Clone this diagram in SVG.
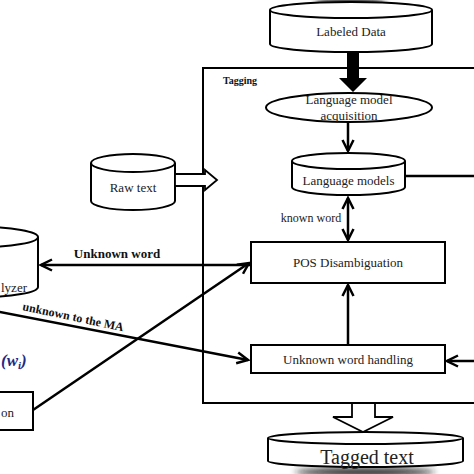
<svg xmlns="http://www.w3.org/2000/svg" width="474" height="474" viewBox="0 0 474 474">
<style>
.s{fill:#fff;stroke:#000;stroke-width:2}
.t{font-family:"Liberation Serif","Times New Roman",serif;font-size:13px;fill:#222;text-anchor:middle}
.b{font-family:"Liberation Serif","Times New Roman",serif;font-weight:bold;fill:#111}
.c{fill:none;stroke:#000;stroke-width:2.5}
</style>
<defs>
<marker id="ah" viewBox="0 0 14 14" refX="12" refY="7" markerWidth="14" markerHeight="14" orient="auto-start-reverse" markerUnits="userSpaceOnUse">
<path d="M1,1.5 L12,7 L1,12.5" fill="none" stroke="#000" stroke-width="2.5"/>
</marker>
<filter id="blur" x="-20%" y="-100%" width="140%" height="300%"><feGaussianBlur stdDeviation="3"/></filter>
</defs>
<rect width="474" height="474" fill="#fff"/>
<ellipse cx="350" cy="0" rx="35" ry="4" fill="#222" filter="url(#blur)"/>
<ellipse cx="365" cy="472" rx="70" ry="4" fill="#222" filter="url(#blur)"/>

<g id="tagging">
<rect x="203" y="68" width="300" height="335" fill="none" stroke="#000" stroke-width="2"/>
<text class="b" x="223" y="84" font-size="10">Tagging</text>
</g>

<g id="labeled-data">
<path class="s" d="M270,10 V44 A81,8 0 0 0 432,44 V10"/>
<ellipse class="s" cx="351" cy="10" rx="81" ry="8"/>
<text class="t" x="351" y="36">Labeled  Data</text>
</g>

<g id="lm-acquisition">
<ellipse class="s" cx="349" cy="107.5" rx="83" ry="14.5"/>
<text class="t" x="349" y="104">Language model</text>
<text class="t" x="349" y="120">acquisition</text>
</g>

<g id="language-models">
<path class="s" d="M292,161 V187 A56.5,8 0 0 0 405,187 V161"/>
<ellipse class="s" cx="348.5" cy="161" rx="56.5" ry="8"/>
<text class="t" x="348.5" y="185">Language models</text>
</g>

<g id="raw-text">
<path class="s" d="M91,163 V201 A42,9 0 0 0 175,201 V163"/>
<ellipse class="s" cx="133" cy="163" rx="42" ry="9"/>
<text class="t" x="133" y="192">Raw text</text>
</g>

<g id="analyzer">
<path class="s" d="M-78,237 V287 A58,10 0 0 0 38,287 V237"/>
<ellipse class="s" cx="-20" cy="237" rx="58" ry="10"/>
<text class="t" x="1" y="292" style="text-anchor:start">lyzer</text>
</g>

<g id="pos">
<rect class="s" x="251" y="242" width="194" height="41"/>
<text class="t" x="348" y="267">POS Disambiguation</text>
</g>

<g id="unknown-handling">
<rect class="s" x="251" y="345" width="194" height="28"/>
<text class="t" x="348" y="364">Unknown word handling</text>
</g>

<g id="left-box">
<rect class="s" x="-10" y="392" width="43" height="38"/>
<text class="t" x="1" y="417" style="text-anchor:start">on</text>
</g>

<g id="wi">
<text x="1" y="366" font-family="Liberation Serif,serif" font-size="17" font-weight="bold" font-style="italic" fill="#1e2a86">(w<tspan font-size="11" dy="3">i</tspan><tspan dy="-3">)</tspan></text>
</g>

<g id="tagged-text">
<path class="s" d="M268,438 V461 A97.5,6 0 0 0 463,461 V438"/>
<ellipse class="s" cx="365.5" cy="438" rx="97.5" ry="6"/>
<text class="t" x="367" y="464" style="font-size:20px">Tagged text</text>
</g>

<g id="connectors">
<polygon points="347,52 359,52 359,78 367,78 353,92 339,78 347,78" fill="#000"/>
<line class="c" x1="348" y1="122" x2="348" y2="151" marker-end="url(#ah)"/>
<line class="c" x1="348" y1="198" x2="348" y2="240" marker-start="url(#ah)" marker-end="url(#ah)"/>
<text class="t" x="311" y="222" style="font-size:12px">known word</text>
<polygon points="175,174 205,174 205,170 217,180 205,190 205,186 175,186" fill="#fff" stroke="#000" stroke-width="1.8"/>
<line class="c" x1="251" y1="265" x2="41" y2="265" marker-end="url(#ah)"/>
<text class="b" x="117" y="258" font-size="13" text-anchor="middle">Unknown word</text>
<line class="c" x1="-5" y1="311" x2="248" y2="360" marker-end="url(#ah)"/>
<text class="b" x="22" y="310" font-size="12" transform="rotate(12 22 310)">unknown to the MA</text>
<line class="c" x1="33" y1="410" x2="249" y2="263" marker-end="url(#ah)"/>
<line class="c" x1="348" y1="345" x2="348" y2="285" marker-end="url(#ah)"/>
<line class="c" x1="405" y1="176" x2="474" y2="176"/>
<line class="c" x1="474" y1="361" x2="447" y2="361" marker-end="url(#ah)"/>
<polygon points="352,403 352,417 333,417 363,432 393,417 375,417 375,403" fill="#fff" stroke="#000" stroke-width="1.8"/>
</g>
</svg>
